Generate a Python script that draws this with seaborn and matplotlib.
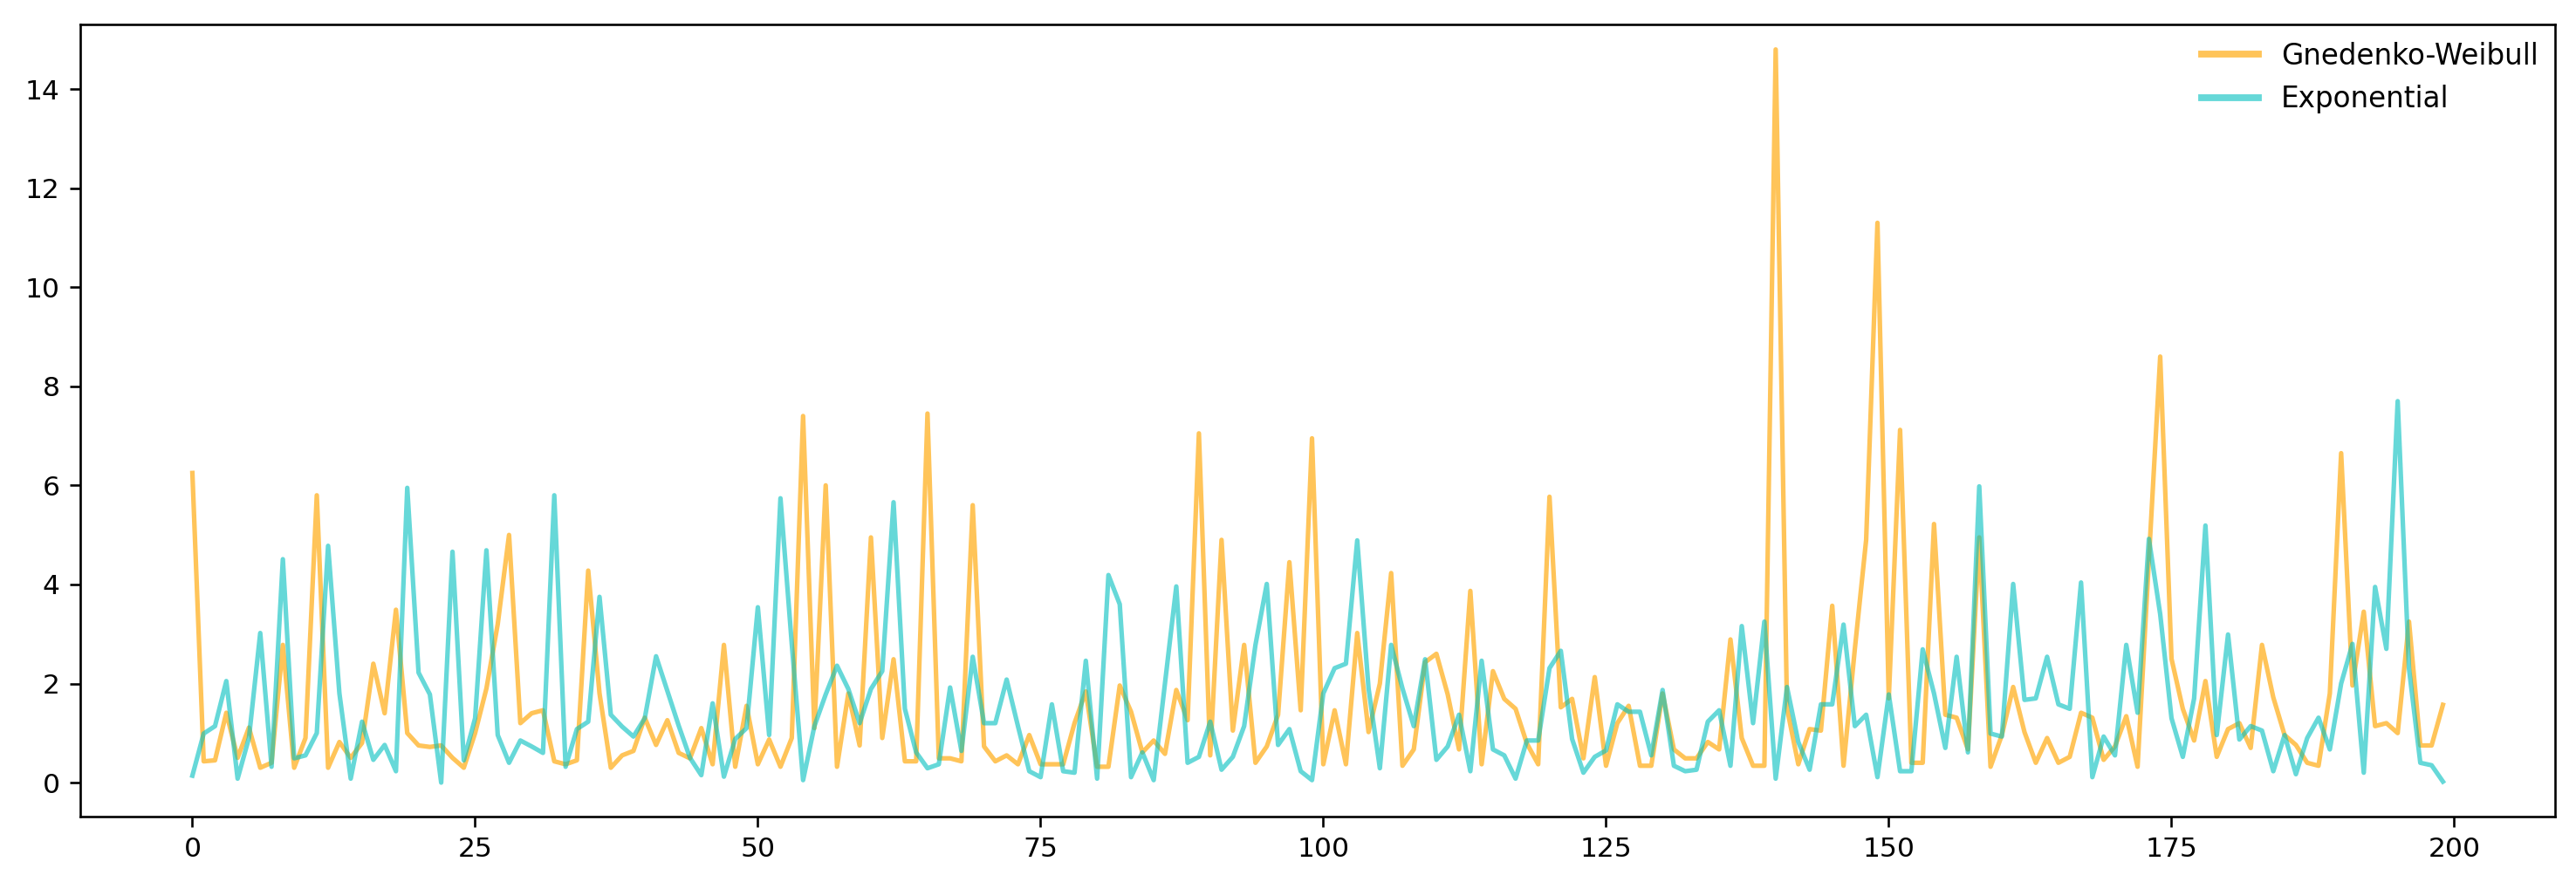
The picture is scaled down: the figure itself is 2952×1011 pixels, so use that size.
import numpy as np
import pandas as pd
import matplotlib
matplotlib.use("Agg")
import matplotlib.pyplot as plt
import seaborn as sns

# values, one per sample (0..199)
weibull = [
    6.25, 0.43, 0.45, 1.41, 0.50, 1.11, 0.30, 0.40, 2.78, 0.30,
    0.90, 5.80, 0.30, 0.82, 0.50, 0.80, 2.40, 1.40, 3.49, 1.00,
    0.75, 0.72, 0.75, 0.50, 0.30, 1.00, 1.90, 3.20, 5.00, 1.20,
    1.40, 1.46, 0.43, 0.37, 0.45, 4.28, 1.80, 0.30, 0.55, 0.64,
    1.31, 0.76, 1.26, 0.60, 0.49, 1.10, 0.37, 2.78, 0.32, 1.55,
    0.37, 0.87, 0.32, 0.90, 7.40, 1.10, 6.00, 0.32, 1.80, 0.75,
    4.95, 0.90, 2.49, 0.43, 0.43, 7.45, 0.49, 0.49, 0.43, 5.60,
    0.73, 0.43, 0.55, 0.37, 0.96, 0.37, 0.37, 0.37, 1.20, 1.84,
    0.32, 0.32, 1.96, 1.43, 0.61, 0.85, 0.58, 1.87, 1.26, 7.05,
    0.55, 4.90, 1.05, 2.78, 0.40, 0.73, 1.37, 4.45, 1.46, 6.95,
    0.37, 1.46, 0.37, 3.02, 1.02, 2.00, 4.23, 0.34, 0.67, 2.43,
    2.60, 1.78, 0.67, 3.87, 0.37, 2.25, 1.69, 1.49, 0.79, 0.37,
    5.77, 1.52, 1.69, 0.49, 2.13, 0.34, 1.20, 1.55, 0.34, 0.34,
    1.80, 0.67, 0.49, 0.49, 0.82, 0.67, 2.89, 0.90, 0.34, 0.34,
    14.80, 1.50, 0.37, 1.08, 1.05, 3.57, 0.34, 2.70, 4.90, 11.30,
    1.70, 7.12, 0.40, 0.40, 5.22, 1.37, 1.31, 0.67, 4.95, 0.32,
    0.96, 1.93, 1.02, 0.40, 0.90, 0.40, 0.52, 1.41, 1.31, 0.46,
    0.73, 1.34, 0.32, 4.50, 8.60, 2.50, 1.49, 0.85, 2.05, 0.52,
    1.08, 1.20, 0.70, 2.78, 1.72, 0.96, 0.76, 0.40, 0.34, 1.80,
    6.65, 1.96, 3.45, 1.14, 1.20, 1.00, 3.25, 0.75, 0.75, 1.57,
]

exponential = [
    0.14, 0.99, 1.14, 2.05, 0.08, 0.90, 3.02, 0.32, 4.51, 0.49,
    0.55, 1.00, 4.78, 1.80, 0.08, 1.23, 0.46, 0.76, 0.23, 5.95,
    2.22, 1.78, 0.00, 4.66, 0.45, 1.30, 4.69, 0.96, 0.40, 0.85,
    0.73, 0.60, 5.80, 0.32, 1.08, 1.23, 3.75, 1.37, 1.13, 0.93,
    1.30, 2.55, 1.85, 1.15, 0.50, 0.15, 1.60, 0.12, 0.88, 1.10,
    3.54, 0.96, 5.74, 2.80, 0.05, 1.14, 1.78, 2.36, 1.89, 1.20,
    1.89, 2.25, 5.66, 1.49, 0.61, 0.29, 0.37, 1.92, 0.64, 2.54,
    1.20, 1.20, 2.08, 1.14, 0.23, 0.11, 1.58, 0.23, 0.20, 2.46,
    0.08, 4.19, 3.60, 0.11, 0.61, 0.05, 2.00, 3.96, 0.40, 0.52,
    1.23, 0.26, 0.52, 1.14, 2.78, 4.01, 0.76, 1.08, 0.23, 0.05,
    1.80, 2.31, 2.40, 4.89, 1.90, 0.29, 2.78, 1.90, 1.14, 2.49,
    0.46, 0.73, 1.37, 0.23, 2.46, 0.67, 0.55, 0.08, 0.85, 0.85,
    2.31, 2.66, 0.88, 0.20, 0.52, 0.65, 1.58, 1.43, 1.43, 0.55,
    1.87, 0.34, 0.23, 0.26, 1.23, 1.46, 0.34, 3.16, 1.20, 3.25,
    0.08, 1.93, 0.82, 0.26, 1.58, 1.58, 3.19, 1.14, 1.37, 0.11,
    1.78, 0.23, 0.23, 2.69, 1.80, 0.70, 2.54, 0.61, 5.98, 0.99,
    0.93, 4.01, 1.67, 1.70, 2.54, 1.58, 1.49, 4.04, 0.11, 0.93,
    0.55, 2.78, 1.41, 4.92, 3.40, 1.30, 0.52, 1.70, 5.19, 0.96,
    2.99, 0.87, 1.14, 1.05, 0.23, 0.96, 0.17, 0.90, 1.31, 0.67,
    2.00, 2.80, 0.20, 3.95, 2.70, 7.70, 2.30, 0.40, 0.35, 0.02,
]

idx = np.arange(len(weibull))

df = pd.DataFrame({'n': idx, 'weibull': weibull, 'exponential': exponential})

fig = plt.figure(figsize=(15.68, 5.37), dpi=188.27)
ax = fig.add_axes([0.031, 0.0745, 0.961, 0.8975])

sns.lineplot(data=df, x='n', y='weibull', ax=ax, color='orange', alpha=0.65,
             linewidth=2.0, label='Gnedenko-Weibull')
sns.lineplot(data=df, x='n', y='exponential', ax=ax, color='c', alpha=0.6,
             linewidth=2.0, label='Exponential')

ax.set_xlabel('')
ax.set_ylabel('')
ax.set_ylim(-0.68, 15.3)
ax.set_xticks([0, 25, 50, 75, 100, 125, 150, 175, 200])
ax.set_yticks([0, 2, 4, 6, 8, 10, 12, 14])
ax.tick_params(labelsize=12, length=4.4, width=1.0, pad=4.4)
for s in ax.spines.values():
    s.set_linewidth(1.0)

leg = ax.legend(loc='upper right', frameon=False, fontsize=12.5, borderaxespad=0.2)
for h in leg.get_lines():
    h.set_linewidth(3.0)

fig.savefig('out.png', dpi=188.27)
